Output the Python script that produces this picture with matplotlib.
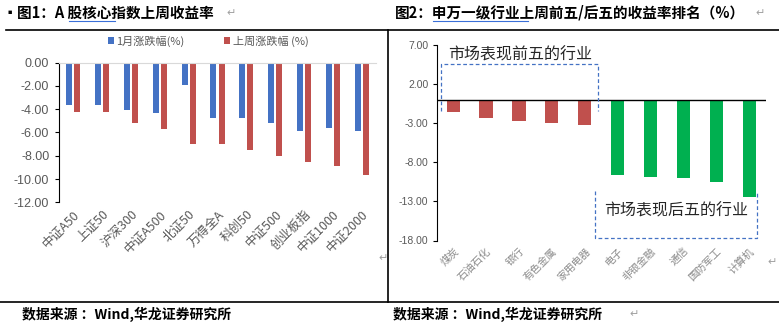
import numpy as np
import matplotlib.pyplot as plt
from matplotlib.lines import Line2D

plt.rcParams['font.family'] = ['Liberation Sans', 'Noto Sans CJK SC', 'DejaVu Sans']

# figure 1 data
idx_names = ["中证A50", "上证50", "沪深300", "中证A500", "北证50", "万得全A",
             "科创50", "中证500", "创业板指", "中证1000", "中证2000"]
month_chg = [-3.66, -3.66, -4.09, -4.31, -1.91, -4.77, -4.77, -5.17, -5.86, -5.63, -5.86]
week_chg = [-4.26, -4.26, -5.17, -5.71, -7.00, -7.00, -7.51, -8.03, -8.54, -8.89, -9.66]

# figure 2 data
ind_names = ["煤炭", "石油石化", "银行", "有色金属", "家用电器",
             "电子", "非银金融", "通信", "国防军工", "计算机"]
ind_chg = [-1.53, -2.42, -2.72, -2.97, -3.23, -9.60, -9.85, -9.98, -10.49, -12.48]

blue = "#4472C4"
red = "#C0504D"
green = "#00B050"
gray = "#595959"
cjk = ['Noto Sans CJK SC', 'DejaVu Sans']

W, H = 779, 326
fig = plt.figure(figsize=(W / 100, H / 100), dpi=100)

def fx(px):
    return px / W

def fy(py):
    return 1 - py / H

# frame lines
for (x0, y0, x1, y1) in [(6, 29.5, 779, 29.5), (0, 302, 779, 302), (387.5, 29.5, 387.5, 302)]:
    fig.add_artist(Line2D([fx(x0), fx(x1)], [fy(y0), fy(y1)], color="black", lw=1.2))

# titles
fig.text(fx(3), fy(13), "▪", fontsize=9, va="center", family=cjk)
fig.text(fx(17), fy(13), "图1：A 股核心指数上周收益率", fontsize=10.5, fontweight="bold",
         va="center", family=cjk)
fig.text(fx(226), fy(13), "↵", fontsize=8, color="#a0a0a0", va="center", family=cjk)
fig.add_artist(Line2D([fx(69), fx(115)], [fy(20.5), fy(20.5)], color="#3a6fd8", lw=0.8))
fig.text(fx(395), fy(13), "图2：申万一级行业上周前五/后五的收益率排名（%）", fontsize=10.5,
         fontweight="bold", va="center", family=cjk)
fig.text(fx(755), fy(13), "↵", fontsize=8, color="#a0a0a0", va="center", family=cjk)
fig.add_artist(Line2D([fx(433), fx(528)], [fy(20.5), fy(20.5)], color="#3a6fd8", lw=0.8))

# sources
fig.text(fx(22), fy(314), "数据来源 ：Wind,华龙证券研究所", fontsize=10, fontweight="bold",
         va="center", family=cjk)
fig.text(fx(393), fy(314), "数据来源 ：Wind,华龙证券研究所", fontsize=10, fontweight="bold",
         va="center", family=cjk)
fig.text(fx(629), fy(314), "↵", fontsize=8, color="#a0a0a0", va="center", family=cjk)
fig.text(fx(378), fy(258), "↵", fontsize=8, color="#a0a0a0", va="center", family=cjk)
fig.text(fx(767), fy(262), "↵", fontsize=8, color="#a0a0a0", va="center", family=cjk)

# ---- left chart
ax1 = fig.add_axes([fx(59), fy(202.3), fx(376 - 59), (202.3 - 62.5) / H])
x = np.arange(len(idx_names))
ax1.bar(x - 0.14, month_chg, width=0.21, color=blue, label="1月涨跌幅(%)")
ax1.bar(x + 0.14, week_chg, width=0.21, color=red, label="上周涨跌幅 (%)")
ax1.set_xlim(-0.5, len(idx_names) - 0.5)
ax1.set_ylim(-12, 0)
ax1.set_yticks(np.arange(-12, 0.1, 2))
ax1.set_yticklabels([f"{v:.2f}" for v in np.arange(-12, 0.1, 2)])
ax1.set_xticks(x)
ax1.set_xticklabels(idx_names, rotation=45, ha="right", rotation_mode="anchor", family=cjk)
for s in ["right", "bottom"]:
    ax1.spines[s].set_visible(False)
ax1.spines["top"].set_color("#D9D9D9")
ax1.spines["left"].set_color("black")
ax1.tick_params(axis="y", labelsize=9, colors=gray, length=3, color="black", pad=4)
ax1.tick_params(axis="x", labelsize=9, colors=gray, length=0, pad=4)
ax1.legend(loc="lower center", bbox_to_anchor=(0.47, 1.04), ncol=2, frameon=False,
           labelcolor=gray, handlelength=0.6, handleheight=0.6,
           handletextpad=0.2, columnspacing=3.5, prop={'family': cjk, 'size': 8})

# ---- right chart
ax2 = fig.add_axes([fx(436.7), fy(240.5), fx(765.7 - 436.7), (240.5 - 44.7) / H])
x2 = np.arange(len(ind_names))
colors = [red] * 5 + [green] * 5
ax2.bar(x2, ind_chg, width=0.4, color=colors)
ax2.set_xlim(-0.5, len(ind_names) - 0.5)
ax2.set_ylim(-18, 7)
ticks2 = np.arange(-18, 7.1, 5)
ax2.set_yticks(ticks2)
ax2.set_yticklabels([f"{v:.2f}" for v in ticks2])
ax2.set_xticks(x2)
ax2.set_xticklabels(ind_names, rotation=45, ha="right", rotation_mode="anchor", family=cjk)
for s in ["right", "bottom", "top"]:
    ax2.spines[s].set_visible(False)
ax2.spines["left"].set_color("black")
ax2.axhline(0, color="black", lw=1.0)
ax2.tick_params(axis="y", labelsize=7.5, colors=gray, length=3, color="black", pad=3)
ax2.tick_params(axis="x", labelsize=7.5, colors="#8c8c8c", length=0, pad=4)

# annotation brackets (open dashed boxes)
dash = dict(ls=(0, (3, 2)), color="#4472C4", lw=0.9, clip_on=False)
ax2.plot([-0.37, -0.37, 4.41, 4.41], [-1.41, 4.54, 4.54, -1.41], **dash)
ax2.text(2.05, 5.7, "市场表现前五的行业", ha="center", va="center", fontsize=11.5,
         color="#262626", family=cjk)
ax2.plot([4.31, 4.31, 9.23, 9.23], [-11.73, -17.66, -17.66, -11.73], **dash)
ax2.text(6.78, -14.3, "市场表现后五的行业", ha="center", va="center", fontsize=11.5,
         color="#262626", family=cjk)

fig.savefig("out.png", dpi=100)
